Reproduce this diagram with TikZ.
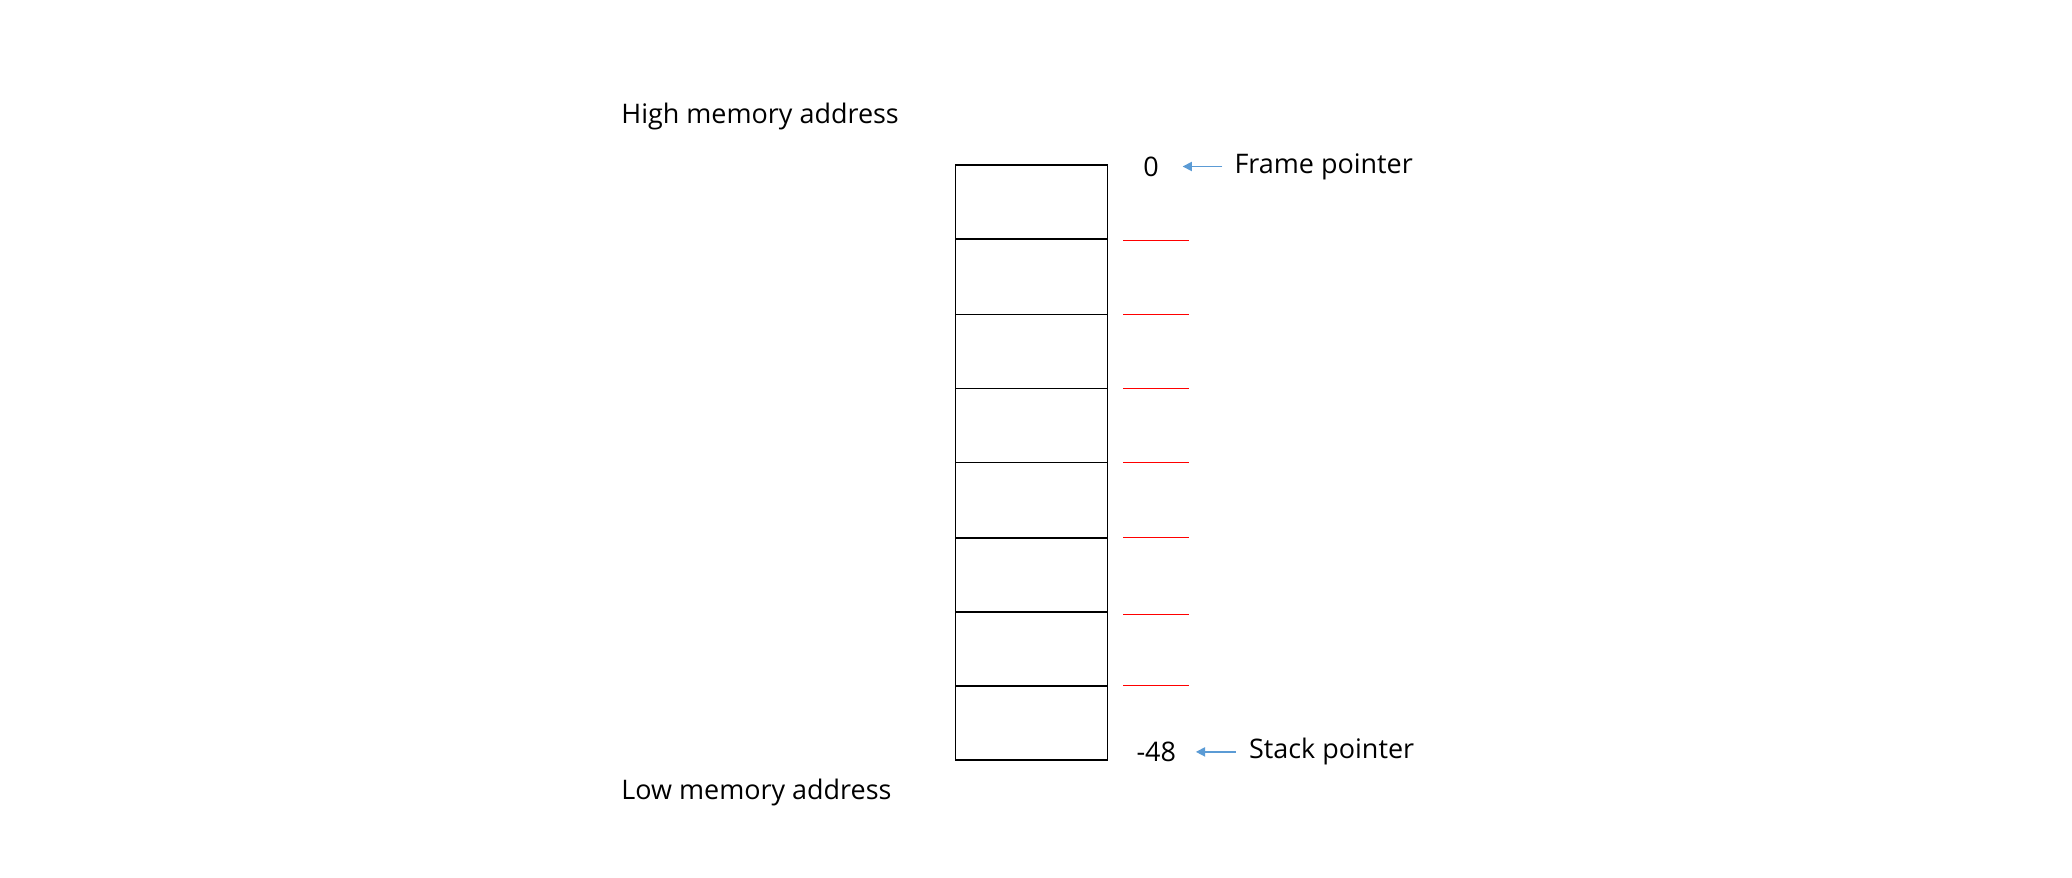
\documentclass[tikz,border=0pt]{standalone}
\usepackage{fontspec}
\setmainfont{Open Sans}
\usetikzlibrary{arrows.meta}
\definecolor{ptr}{RGB}{91,155,213}
\begin{document}
\begin{tikzpicture}[x=0.025cm,y=-0.025cm,
  lbl/.style={font=\fontsize{14.5}{17}\selectfont,inner sep=0pt},
  cell/.style={draw,line width=0.9pt},
  tick/.style={red,line width=0.6pt},
  arr/.style={ptr,line width=0.8pt,-{Triangle[length=5pt,width=5pt]}}]
\useasboundingbox (0,0) rectangle (1568,664);
\node[lbl,anchor=west] (high) at (470,88) {High memory address};
\node[lbl,anchor=west] (low) at (470,600) {Low memory address};
\foreach \i/\a/\b in {1/125/181,2/181/238,3/238/294,4/294/350,5/350/407,6/407/463,7/463/519,8/519/575}
  \draw[cell] (723,\a) rectangle (838,\b);
\foreach \y in {182,238,294,350,407,465,519}
  \draw[tick] (850,\y) -- (900,\y);
\node[lbl] (zero) at (871,126) {0};
\node[lbl,anchor=west] (fp) at (934,126) {Frame pointer};
\draw[arr] (fp.west) ++(-9,0) coordinate (fa) -- (895,126);
\node[lbl] (m48) at (875,569) {-48};
\node[lbl,anchor=west] (sp) at (945,569) {Stack pointer};
\draw[arr] (sp.west) ++(-10,0) coordinate (sa) -- (905,569);
\end{tikzpicture}
\end{document}
